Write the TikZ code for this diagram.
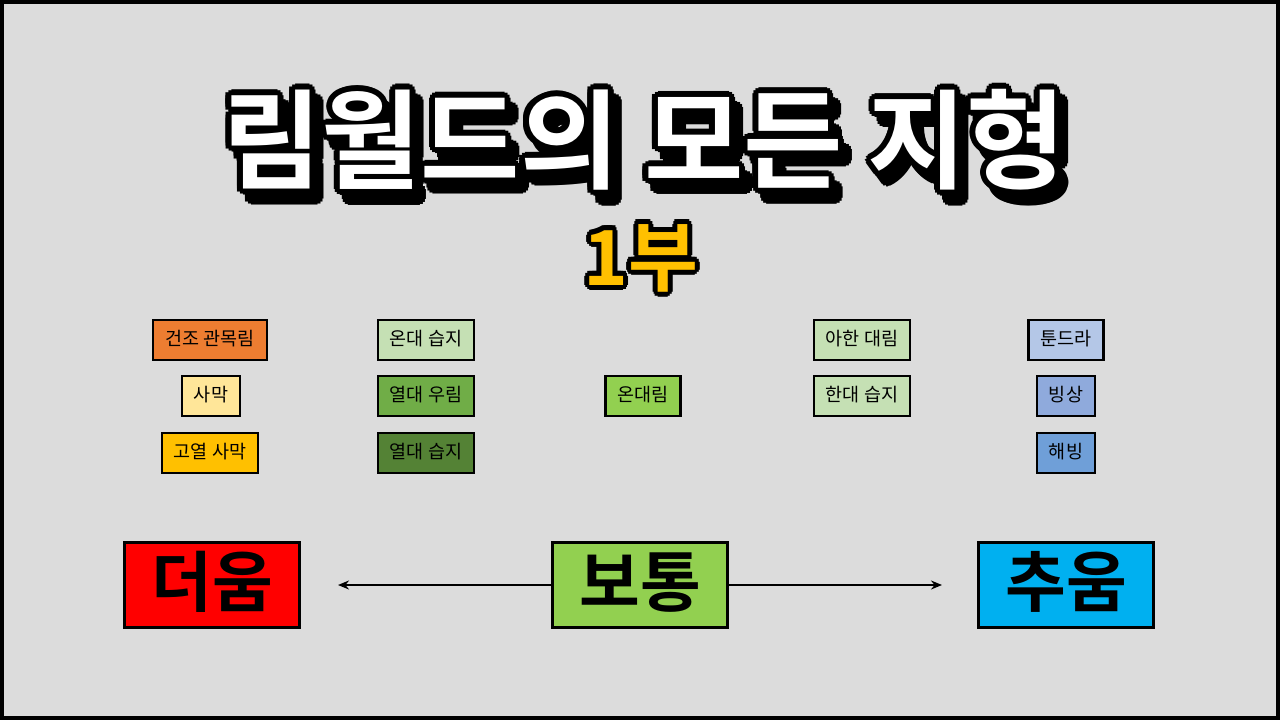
\documentclass[tikz,border=0pt]{standalone}
\usepackage{fontspec}
\newfontfamily\kr{Noto Sans CJK KR}[BoldFont={Noto Sans CJK KR Bold}]
\usetikzlibrary{arrows.meta,calc}
\definecolor{bg}{HTML}{DCDCDC}
\tikzset{
 sm/.style={draw=black,line width=2.2pt,font=\kr\fontsize{18.5}{20}\selectfont,inner xsep=12pt,minimum height=40pt,text height=14pt,text depth=3pt},
 big/.style={draw=black,line width=2.4pt,font=\kr\bfseries\fontsize{66}{68}\selectfont,minimum width=175pt,minimum height=85pt,text height=50pt,text depth=7pt},
}
\begin{document}
\begin{tikzpicture}[x=1pt,y=-1pt]
\fill[black] (0,0) rectangle (1280,720);
\fill[bg] (4,4) rectangle (1276,716);
% title
\begin{scope}[every node/.style={font=\kr\bfseries\fontsize{108}{110}\selectfont}]
\foreach \a in {0,30,...,330}{\node[text=black] at ($(652,150)+(\a:6)$) {림월드의 모든 지형};}
\foreach \a in {0,30,...,330}{\node[text=black] at ($(644,140)+(\a:6)$) {림월드의 모든 지형};}
\node[text=white] (title) at (644,140) {림월드의 모든 지형};
\end{scope}
\begin{scope}[every node/.style={font=\kr\bfseries\fontsize{76}{78}\selectfont}]
\foreach \a in {0,30,...,330}{\node[text=black] at ($(641,258)+(\a:5)$) {1부};}
\node[text={rgb,255:red,255;green,192;blue,0}] (sub) at (641,258) {1부};
\end{scope}
\node[sm,fill={rgb,255:red,237;green,125;blue,49}] (a1) at (210,340) {건조 관목림};
\node[sm,fill={rgb,255:red,255;green,230;blue,153}] (a2) at (211,396) {사막};
\node[sm,fill={rgb,255:red,255;green,192;blue,0}] (a3) at (210,453) {고열 사막};
\node[sm,fill={rgb,255:red,197;green,224;blue,180}] (b1) at (426,340) {온대 습지};
\node[sm,fill={rgb,255:red,112;green,173;blue,71}] (b2) at (426,396) {열대 우림};
\node[sm,fill={rgb,255:red,84;green,130;blue,53}] (b3) at (426,453) {열대 습지};
\node[sm,fill={rgb,255:red,146;green,208;blue,80}] (c1) at (643,396) {온대림};
\node[sm,fill={rgb,255:red,197;green,224;blue,180}] (d1) at (862,340) {아한 대림};
\node[sm,fill={rgb,255:red,197;green,224;blue,180}] (d2) at (862,396) {한대 습지};
\node[sm,fill={rgb,255:red,180;green,199;blue,231}] (e1) at (1066,340) {툰드라};
\node[sm,fill={rgb,255:red,143;green,170;blue,220}] (e2) at (1066,396) {빙상};
\node[sm,fill={rgb,255:red,111;green,159;blue,216}] (e3) at (1066,453) {해빙};
\node[big,fill=red] (hot) at (212,585) {더움};
\node[big,fill={rgb,255:red,146;green,208;blue,80}] (mid) at (640,585) {보통};
\node[big,fill={rgb,255:red,0;green,176;blue,240}] (cold) at (1066,585) {추움};
\coordinate (lt) at (338,585);
\coordinate (rt) at (942,585);
\draw[line width=1.8pt,-{Stealth[length=11pt,width=9pt]}] (mid) -- (lt);
\draw[line width=1.8pt,-{Stealth[length=11pt,width=9pt]}] (mid) -- (rt);
\end{tikzpicture}
\end{document}
